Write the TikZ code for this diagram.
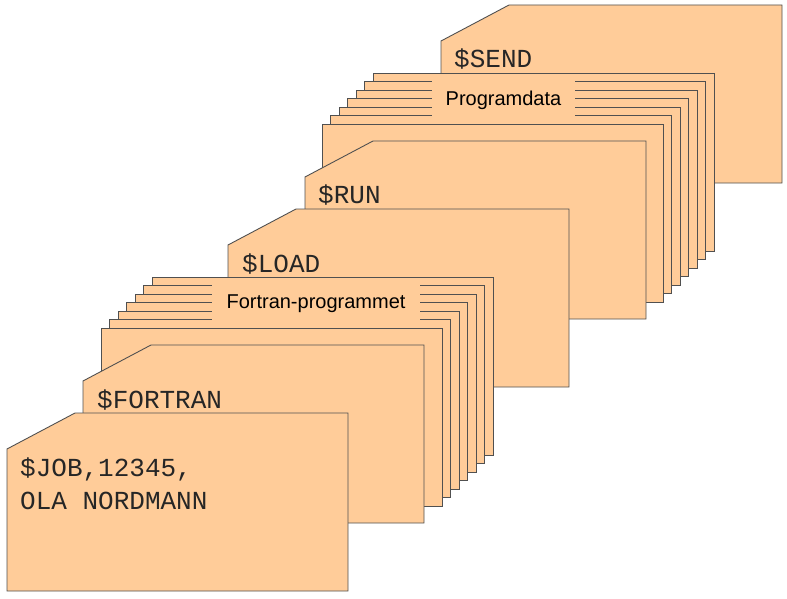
\documentclass[tikz,border=0pt]{standalone}
\usepackage{fontspec}
\setmainfont{Liberation Sans}
\newfontfamily\cardmono{Liberation Mono}
\definecolor{cardfill}{HTML}{FFCC99}
\definecolor{cardline}{HTML}{505050}
\newcommand{\cutcard}[2]{\draw[card] (#1,#2+36) -- (#1+68,#2) -- (#1+341,#2) -- (#1+341,#2+178) -- (#1,#2+178) -- cycle;}
\newcommand{\plaincard}[2]{\draw[card] (#1,#2) rectangle (#1+341,#2+178);}
\begin{document}
\begin{tikzpicture}[x=1pt,y=-1pt,
  card/.style={fill=cardfill,draw=cardline,line width=0.9pt},
  monotext/.style={anchor=base west,inner sep=0pt,font=\cardmono\fontsize{26}{32}\selectfont,text=black!85},
  sanstext/.style={inner sep=0pt,font=\fontsize{20}{24}\selectfont}]
\useasboundingbox (0,0) rectangle (787,599);
% SEND
\cutcard{441}{5}
\node[monotext] (send) at (454,68) {\$SEND};
% Programdata stack
\foreach \i in {6,...,0} {\plaincard{322+8.5*\i}{124-8.5*\i}}
\fill[cardfill] (432,77) rectangle (575,120);
\node[sanstext] (pdata) at (503.5,100) {Programdata};
% RUN
\cutcard{305}{141}
\node[monotext] (run) at (318,203) {\$RUN};
% LOAD
\cutcard{228}{209}
\node[monotext] (load) at (242,272) {\$LOAD};
% Fortran stack
\foreach \i in {6,...,0} {\plaincard{101+8.5*\i}{328-8.5*\i}}
\fill[cardfill] (212,281) rectangle (420,323.5);
\node[sanstext] (fprog) at (316,304) {Fortran-programmet};
% FORTRAN
\cutcard{83}{345}
\node[monotext] (fortran) at (97,408) {\$FORTRAN};
% JOB
\cutcard{7}{413}
\node[monotext] (job) at (20,476) {\$JOB,12345,};
\node[monotext] (name) at (20,509) {OLA NORDMANN};
\end{tikzpicture}
\end{document}
